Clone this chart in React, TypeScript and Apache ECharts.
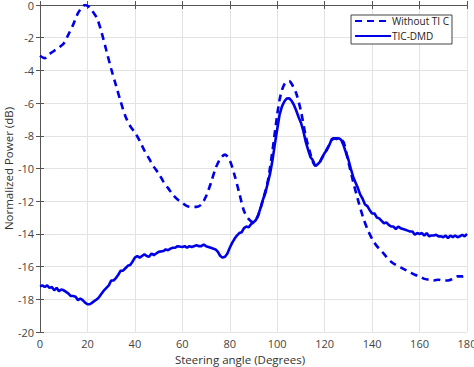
import React, { useEffect, useRef } from "react";
import * as echarts from "echarts";

const xTicks = [0, 20, 40, 60, 80, 100, 120, 140, 160, 180];
const yTicks = [0, -2, -4, -6, -8, -10, -12, -14, -16, -18, -20];

const withoutTicAngles = [0, 2, 4, 6, 8, 10, 12, 14, 16, 18, 19, 20, 21, 22, 24, 26, 28, 30, 32, 34, 36, 38, 40, 42, 44, 46, 48, 50, 52, 54, 56, 58, 60, 62, 64, 66, 68, 70, 72, 74, 76, 78, 80, 82, 84, 86, 88, 90, 92, 94, 96, 98, 100, 101, 102, 103, 104, 105, 106, 108, 110, 112, 114, 116, 117, 118, 120, 122, 124, 126, 128, 130, 132, 134, 136, 138, 140, 142, 144, 146, 148, 150, 152, 154, 156, 158, 160, 162, 164, 166, 168, 170, 172, 174, 176, 178, 180];
const withoutTicPower = [-3.1, -3.25, -3.0, -2.8, -2.6, -2.35, -1.8, -1.2, -0.5, -0.1, 0, -0.05, -0.15, -0.35, -0.8, -1.7, -2.8, -3.9, -4.9, -5.9, -6.8, -7.4, -7.8, -8.3, -8.9, -9.4, -9.9, -10.3, -10.8, -11.2, -11.6, -11.9, -12.1, -12.3, -12.35, -12.35, -12.2, -11.7, -10.9, -10.0, -9.4, -9.15, -9.5, -10.4, -11.5, -12.6, -13.1, -13.3, -12.85, -11.9, -10.8, -8.9, -6.7, -5.8, -5.2, -4.85, -4.7, -4.65, -4.8, -5.4, -6.5, -8.0, -9.1, -9.8, -9.8, -9.6, -9.05, -8.55, -8.15, -8.15, -8.4, -9.6, -10.8, -11.9, -12.9, -13.7, -14.3, -14.75, -15.05, -15.4, -15.7, -15.9, -16.05, -16.2, -16.35, -16.5, -16.6, -16.75, -16.8, -16.85, -16.8, -16.85, -16.85, -16.75, -16.6, -16.6, -16.5];

const ticDmdAngles = [0, 1, 2, 3, 4, 5, 6, 7, 8, 9, 10, 11, 12, 13, 14, 15, 16, 17, 18, 19, 20, 21, 22, 23, 24, 25, 26, 27, 28, 29, 30, 31, 32, 33, 34, 35, 36, 37, 38, 39, 40, 41, 42, 43, 44, 45, 46, 47, 48, 49, 50, 52, 53, 54, 55, 56, 57, 58, 60, 61, 62, 63, 64, 66, 67, 68, 69, 70, 72, 74, 75, 76, 77, 78, 79, 80, 81, 82, 83, 84, 85, 86, 87, 88, 89, 90, 91, 92, 93, 94, 95, 96, 97, 98, 99, 100, 101, 102, 103, 104, 105, 106, 107, 108, 109, 110, 111, 112, 113, 114, 115, 116, 117, 118, 119, 120, 121, 122, 123, 124, 125, 126, 127, 128, 129, 130, 131, 132, 133, 134, 135, 136, 137, 138, 139, 140, 141, 142, 143, 144, 145, 146, 147, 148, 149, 150, 151, 152, 153, 154, 155, 156, 157, 158, 159, 160, 161, 162, 163, 164, 165, 166, 167, 168, 169, 170, 171, 172, 173, 174, 175, 176, 177, 178, 179, 180];
const ticDmdPower = [-17.2, -17.15, -17.25, -17.15, -17.3, -17.25, -17.45, -17.3, -17.5, -17.4, -17.45, -17.55, -17.65, -17.8, -17.8, -17.85, -18.05, -17.95, -18.05, -18.2, -18.3, -18.3, -18.2, -18.1, -18.0, -17.85, -17.65, -17.45, -17.3, -17.15, -16.85, -16.85, -16.7, -16.5, -16.25, -16.25, -16.1, -15.95, -15.9, -15.7, -15.45, -15.35, -15.45, -15.35, -15.25, -15.35, -15.4, -15.2, -15.3, -15.2, -15.1, -15.05, -14.95, -15.0, -14.9, -14.85, -14.85, -14.75, -14.8, -14.75, -14.85, -14.75, -14.8, -14.7, -14.75, -14.75, -14.65, -14.75, -14.85, -14.95, -15.1, -15.35, -15.45, -15.4, -15.2, -14.85, -14.55, -14.3, -14.1, -13.95, -13.9, -13.65, -13.55, -13.6, -13.4, -13.3, -13.15, -12.85, -12.4, -11.9, -11.5, -10.9, -10.3, -9.5, -8.5, -7.6, -6.7, -6.2, -5.9, -5.72, -5.7, -5.85, -6.1, -6.45, -6.85, -7.2, -7.7, -8.35, -8.85, -9.3, -9.5, -9.85, -9.75, -9.6, -9.3, -9.05, -8.85, -8.55, -8.2, -8.15, -8.2, -8.15, -8.25, -8.6, -9.05, -9.45, -10.0, -10.5, -10.85, -11.2, -11.6, -11.85, -12.2, -12.3, -12.55, -12.75, -12.75, -13.0, -13.05, -13.2, -13.35, -13.3, -13.45, -13.55, -13.55, -13.7, -13.55, -13.65, -13.7, -13.75, -13.8, -13.85, -13.85, -14.05, -13.95, -14.0, -13.95, -14.1, -13.95, -14.15, -14.1, -14.1, -14.05, -14.15, -14.15, -14.2, -14.1, -14.25, -14.1, -14.2, -14.1, -14.2, -14.15, -14.05, -14.15, -14.0];

const seriesNames = ["Without TI C", "TIC-DMD"];

const FONT = "'Open Sans', 'Noto Sans', sans-serif";
const BLUE = "#0000e6";

export default function App() {
  const ref = useRef<HTMLDivElement>(null);
  useEffect(() => {
    if (!ref.current) return;
    const chart = echarts.init(ref.current, undefined, { renderer: "svg" });
    const axisLineStyle = { color: "#555", width: 1 };
    chart.setOption({
      animation: false,
      backgroundColor: "#fff",
      grid: { left: 40, right: 7, top: 5, bottom: 35, containLabel: false, outerBoundsMode: "none" },
      legend: {
        orient: "vertical",
        right: 22,
        top: 15,
        itemWidth: 36,
        itemHeight: 10,
        itemGap: 5,
        padding: [1, 3, 3, 3],
        backgroundColor: "#fff",
        borderColor: "#444",
        borderWidth: 1,
        itemStyle: { opacity: 0 },
        textStyle: { fontFamily: FONT, fontSize: 10, lineHeight: 10, color: "#222", padding: [0, 0, 0, -4] },
        data: seriesNames,
      },
      xAxis: [
        {
          type: "value",
          min: 0,
          max: 180,
          interval: 20,
          name: "Steering angle (Degrees)",
          nameLocation: "middle",
          nameGap: 21,
          nameMoveOverlap: false,
          nameTextStyle: { fontFamily: FONT, fontSize: 11.5, color: "#333", padding: [0, 27, 0, 0] },
          axisLine: { show: true, lineStyle: axisLineStyle },
          axisTick: { show: true, inside: true, length: 4, lineStyle: axisLineStyle },
          axisLabel: { fontFamily: FONT, fontSize: 11, color: "#444", margin: 6 },
          splitLine: { show: true, lineStyle: { color: "#e3e3e3", width: 1 } },
        },
        {
          type: "value",
          position: "top",
          min: 0,
          max: 180,
          interval: 20,
          axisLine: { show: true, lineStyle: axisLineStyle },
          axisTick: { show: true, inside: true, length: 4, lineStyle: axisLineStyle },
          axisLabel: { show: false },
          splitLine: { show: false },
        },
      ],
      yAxis: [
        {
          type: "value",
          min: -20,
          max: 0,
          interval: 2,
          name: "Normalized Power (dB)",
          nameLocation: "middle",
          nameGap: 26,
          nameMoveOverlap: false,
          nameTextStyle: { fontFamily: FONT, fontSize: 11.5, color: "#333" },
          axisLine: { show: true, lineStyle: axisLineStyle },
          axisTick: { show: true, inside: true, length: 4, lineStyle: axisLineStyle },
          axisLabel: { fontFamily: FONT, fontSize: 11, color: "#444", margin: 6 },
          splitLine: { show: true, lineStyle: { color: "#e3e3e3", width: 1 } },
        },
        {
          type: "value",
          position: "right",
          min: -20,
          max: 0,
          interval: 2,
          axisLine: { show: true, lineStyle: axisLineStyle },
          axisTick: { show: true, inside: true, length: 4, lineStyle: axisLineStyle },
          axisLabel: { show: false },
          splitLine: { show: false },
        },
      ],
      series: [
        {
          name: seriesNames[0],
          type: "line",
          symbol: "none",
          data: withoutTicAngles.map((a, i) => [a, withoutTicPower[i]]),
          lineStyle: { color: BLUE, width: 2.6, type: [7, 5] },
          itemStyle: { color: BLUE },
          smooth: 0.3,
          z: 2,
        },
        {
          name: seriesNames[1],
          type: "line",
          symbol: "none",
          data: ticDmdAngles.map((a, i) => [a, ticDmdPower[i]]),
          lineStyle: { color: BLUE, width: 2.6 },
          itemStyle: { color: BLUE },
          z: 3,
        },
      ],
    });
    return () => chart.dispose();
  }, []);
  return <div ref={ref} style={{ width: 474, height: 367, position: "absolute", left: 0, top: 0 }} />;
}
